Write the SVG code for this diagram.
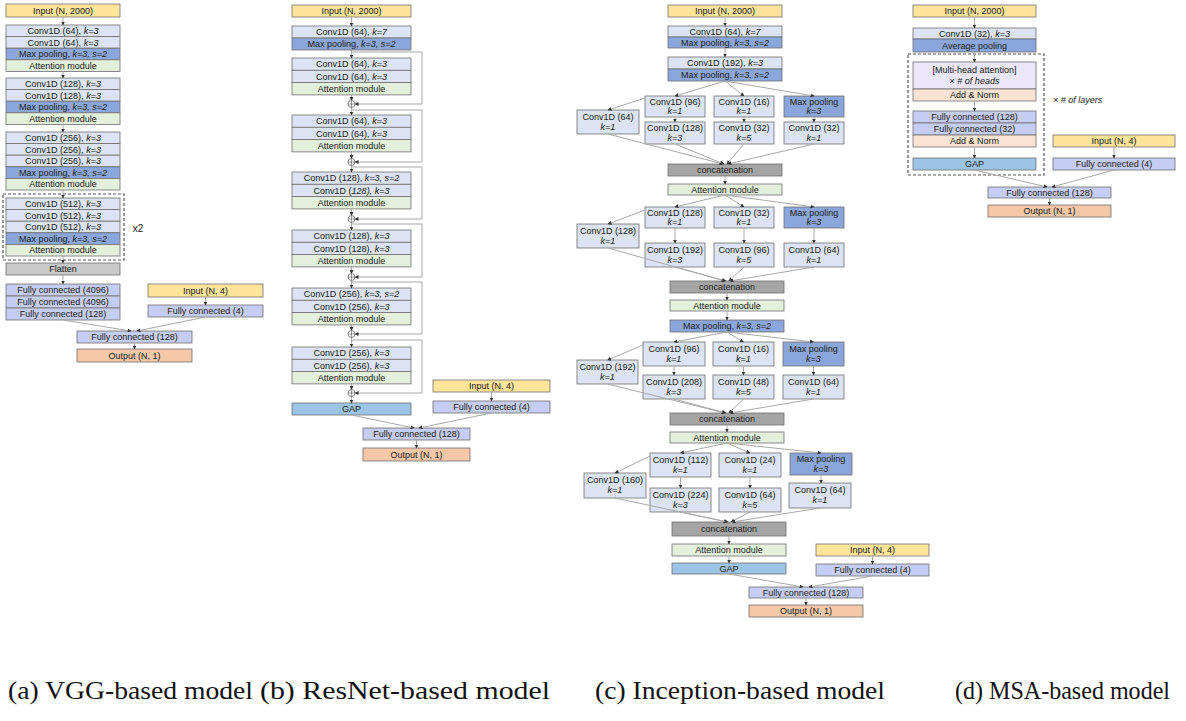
<svg xmlns="http://www.w3.org/2000/svg" width="1186" height="721" viewBox="0 0 1186 721">
<style>
rect{stroke:#6f6f6f;stroke-width:0.8}
.in{fill:#ffe49a}.cv{fill:#dbe3f4}.mp{fill:#8aa6dc}.at{fill:#e3f0dc}.fc{fill:#c6cdf4}.out{fill:#f7c8a8}.gap{fill:#9cc4e6}.cc{fill:#a5a5a5}.fl{fill:#c9c9c9}.mh{fill:#ece6fa}.an{fill:#fbe3d3}
.dash{fill:none;stroke:#555;stroke-width:1.2;stroke-dasharray:3,2}
text{font-family:"Liberation Sans",Arial,sans-serif;font-size:9px;fill:#222;text-anchor:middle}
.i{font-style:italic}
.cap{font-family:"Liberation Serif","Times New Roman",serif;font-size:26px;fill:#111;text-anchor:start}
.c line,.c path,.c polyline{stroke:#a8a8a8;stroke-width:1;fill:none;marker-end:url(#ah)}
.c circle{fill:#fff;stroke:#555;stroke-width:0.7}
.c .pl{stroke:#555;stroke-width:0.6;marker-end:none}
</style>
<defs><marker id="ah" markerWidth="4" markerHeight="4" refX="3.5" refY="2" orient="auto" markerUnits="userSpaceOnUse"><path d="M0,0L4,2L0,4z" fill="#333"/></marker></defs>

<g id="vgg">
<g id="a-in"><rect class="in" x="6" y="4" width="114" height="13"/><text x="63" y="13.8">Input (N, 2000)</text></g>
<g id="a-b1">
<rect class="cv" x="6" y="25" width="114" height="11.6"/><text x="63" y="34">Conv1D (64), <tspan class="i">k=3</tspan></text>
<rect class="cv" x="6" y="36.6" width="114" height="11.6"/><text x="63" y="45.6">Conv1D (64), <tspan class="i">k=3</tspan></text>
<rect class="mp" x="6" y="48.2" width="114" height="11.6"/><text x="63" y="57.2">Max pooling, <tspan class="i">k=3,  s=2</tspan></text>
<rect class="at" x="6" y="59.8" width="114" height="11.6"/><text x="63" y="68.8">Attention module</text></g>
<g id="a-b2">
<rect class="cv" x="6" y="78" width="114" height="11.6"/><text x="63" y="87">Conv1D (128), <tspan class="i">k=3</tspan></text>
<rect class="cv" x="6" y="89.6" width="114" height="11.6"/><text x="63" y="98.6">Conv1D (128), <tspan class="i">k=3</tspan></text>
<rect class="mp" x="6" y="101.2" width="114" height="11.6"/><text x="63" y="110.2">Max pooling, <tspan class="i">k=3, s=2</tspan></text>
<rect class="at" x="6" y="112.8" width="114" height="11.6"/><text x="63" y="121.8">Attention module</text></g>
<g id="a-b3">
<rect class="cv" x="6" y="132" width="114" height="11.6"/><text x="63" y="141">Conv1D (256), <tspan class="i">k=3</tspan></text>
<rect class="cv" x="6" y="143.6" width="114" height="11.6"/><text x="63" y="152.6">Conv1D (256), <tspan class="i">k=3</tspan></text>
<rect class="cv" x="6" y="155.2" width="114" height="11.6"/><text x="63" y="164.2">Conv1D (256), <tspan class="i">k=3</tspan></text>
<rect class="mp" x="6" y="166.8" width="114" height="11.6"/><text x="63" y="175.8">Max pooling, <tspan class="i">k=3, s=2</tspan></text>
<rect class="at" x="6" y="178.4" width="114" height="11.6"/><text x="63" y="187.4">Attention module</text></g>
<g id="a-b4">
<rect class="dash" x="3" y="194" width="121" height="66"/>
<rect class="cv" x="6" y="198" width="114" height="11.6"/><text x="63" y="207">Conv1D (512), <tspan class="i">k=3</tspan></text>
<rect class="cv" x="6" y="209.6" width="114" height="11.6"/><text x="63" y="218.6">Conv1D (512), <tspan class="i">k=3</tspan></text>
<rect class="cv" x="6" y="221.2" width="114" height="11.6"/><text x="63" y="230.2">Conv1D (512), <tspan class="i">k=3</tspan></text>
<rect class="mp" x="6" y="232.8" width="114" height="11.6"/><text x="63" y="241.8">Max pooling, <tspan class="i">k=3, s=2</tspan></text>
<rect class="at" x="6" y="244.4" width="114" height="11.6"/><text x="63" y="253.4">Attention module</text>
<text x="138" y="232" style="font-size:10px;font-style:normal">x2</text></g>
<g id="a-fl"><rect class="fl" x="6" y="263" width="114" height="12"/><text x="63" y="272.2">Flatten</text></g>
<g id="a-fc">
<rect class="fc" x="6" y="284" width="114" height="12"/><text x="63" y="293.2">Fully connected (4096)</text>
<rect class="fc" x="6" y="296" width="114" height="12"/><text x="63" y="305.2">Fully connected (4096)</text>
<rect class="fc" x="6" y="308" width="114" height="12"/><text x="63" y="317.2">Fully connected (128)</text></g>
<g id="a-in4"><rect class="in" x="148" y="284" width="115" height="13"/><text x="205.5" y="293.8">Input (N, 4)</text></g>
<g id="a-fc4"><rect class="fc" x="148" y="305" width="115" height="12"/><text x="205.5" y="314.2">Fully connected (4)</text></g>
<g id="a-fc128"><rect class="fc" x="77" y="331" width="115" height="12"/><text x="134.5" y="340.2">Fully connected (128)</text></g>
<g id="a-out"><rect class="out" x="77" y="349" width="115" height="13"/><text x="134.5" y="358.8">Output (N, 1)</text></g>
</g>

<g id="resnet">
<g id="b-in"><rect class="in" x="292" y="5" width="119" height="12"/><text x="351.5" y="14.2">Input (N, 2000)</text></g>
<g id="b-stem"><rect class="cv" x="292" y="26" width="119" height="12"/><text x="351.5" y="35.2">Conv1D (64), <tspan class="i">k=7</tspan></text>
<rect class="mp" x="292" y="38" width="119" height="12"/><text x="351.5" y="47.2">Max pooling, <tspan class="i">k=3, s=2</tspan></text></g>
<g id="b-1"><rect class="cv" x="292" y="58" width="119" height="12.3"/><text x="351.5" y="67.3">Conv1D (64), <tspan class="i">k=3</tspan></text>
<rect class="cv" x="292" y="70.3" width="119" height="12.3"/><text x="351.5" y="79.6">Conv1D (64), <tspan class="i">k=3</tspan></text>
<rect class="at" x="292" y="82.6" width="119" height="12.3"/><text x="351.5" y="91.9">Attention module</text></g>
<g id="b-2"><rect class="cv" x="292" y="115" width="119" height="12.3"/><text x="351.5" y="124.3">Conv1D (64), <tspan class="i">k=3</tspan></text>
<rect class="cv" x="292" y="127.3" width="119" height="12.3"/><text x="351.5" y="136.6">Conv1D (64), <tspan class="i">k=3</tspan></text>
<rect class="at" x="292" y="139.6" width="119" height="12.3"/><text x="351.5" y="148.9">Attention module</text></g>
<g id="b-3"><rect class="cv" x="292" y="172" width="119" height="12.3"/><text x="351.5" y="181.3">Conv1D (128), <tspan class="i">k=3, s=2</tspan></text>
<rect class="cv" x="292" y="184.3" width="119" height="12.3"/><text x="351.5" y="193.6">Conv1D (<tspan class="i">128), </tspan><tspan class="i">k=3</tspan></text>
<rect class="at" x="292" y="196.6" width="119" height="12.3"/><text x="351.5" y="205.9">Attention module</text></g>
<g id="b-4"><rect class="cv" x="292" y="230" width="119" height="12.3"/><text x="351.5" y="239.3">Conv1D (128), <tspan class="i">k=3</tspan></text>
<rect class="cv" x="292" y="242.3" width="119" height="12.3"/><text x="351.5" y="251.6">Conv1D (128), <tspan class="i">k=3</tspan></text>
<rect class="at" x="292" y="254.6" width="119" height="12.3"/><text x="351.5" y="263.9">Attention module</text></g>
<g id="b-5"><rect class="cv" x="292" y="288" width="119" height="12.3"/><text x="351.5" y="297.3">Conv1D (256), <tspan class="i">k=3, s=2</tspan></text>
<rect class="cv" x="292" y="300.3" width="119" height="12.3"/><text x="351.5" y="309.6">Conv1D (256), <tspan class="i">k=3</tspan></text>
<rect class="at" x="292" y="312.6" width="119" height="12.3"/><text x="351.5" y="321.9">Attention module</text></g>
<g id="b-6"><rect class="cv" x="292" y="347" width="119" height="12.3"/><text x="351.5" y="356.3">Conv1D (256), <tspan class="i">k=3</tspan></text>
<rect class="cv" x="292" y="359.3" width="119" height="12.3"/><text x="351.5" y="368.6">Conv1D (256), <tspan class="i">k=3</tspan></text>
<rect class="at" x="292" y="371.6" width="119" height="12.3"/><text x="351.5" y="380.9">Attention module</text></g>
<g id="b-gap"><rect class="gap" x="292" y="403" width="119" height="12"/><text x="351.5" y="412.2">GAP</text></g>
<g id="b-in4"><rect class="in" x="433" y="380" width="117" height="12"/><text x="491.5" y="389.2">Input (N, 4)</text></g>
<g id="b-fc4"><rect class="fc" x="433" y="401" width="117" height="12"/><text x="491.5" y="410.2">Fully connected (4)</text></g>
<g id="b-fc128"><rect class="fc" x="363" y="428" width="107" height="12"/><text x="416.5" y="437.2">Fully connected (128)</text></g>
<g id="b-out"><rect class="out" x="363" y="448" width="107" height="13"/><text x="416.5" y="457.8">Output (N, 1)</text></g>
</g>

<g id="inception">
<g id="c-in"><rect class="in" x="668" y="5" width="114" height="12"/><text x="725" y="14.2">Input (N, 2000)</text></g>
<g id="c-stem"><rect class="cv" x="668" y="26" width="114" height="11"/><text x="725" y="34.7">Conv1D (64), <tspan class="i">k=7</tspan></text>
<rect class="mp" x="668" y="37" width="114" height="11"/><text x="725" y="45.7">Max pooling, <tspan class="i">k=3, s=2</tspan></text>
<rect class="cv" x="668" y="57" width="114" height="12"/><text x="725" y="66.2">Conv1D (192), <tspan class="i">k=3</tspan></text>
<rect class="mp" x="668" y="69" width="114" height="12"/><text x="725" y="78.2">Max pooling, <tspan class="i">k=3, s=2</tspan></text></g>
<g id="c-inc1">
<rect class="cv" x="645" y="96" width="60" height="21"/><text x="675" y="105">Conv1D (96)</text><text class="i" x="675" y="114">k=1</text>
<rect class="cv" x="714" y="96" width="60" height="21"/><text x="744" y="105">Conv1D (16)</text><text class="i" x="744" y="114">k=1</text>
<rect class="mp" x="784" y="96" width="60" height="21"/><text x="814" y="105">Max pooling</text><text class="i" x="814" y="114">k=3</text>
<rect class="cv" x="577" y="110" width="62" height="24"/><text x="608" y="120">Conv1D (64)</text><text class="i" x="608" y="130">k=1</text>
<rect class="cv" x="645" y="122" width="60" height="22"/><text x="675" y="131">Conv1D (128)</text><text class="i" x="675" y="141">k=3</text>
<rect class="cv" x="714" y="122" width="60" height="22"/><text x="744" y="131">Conv1D (32)</text><text class="i" x="744" y="141">k=5</text>
<rect class="cv" x="784" y="122" width="60" height="22"/><text x="814" y="131">Conv1D (32)</text><text class="i" x="814" y="141">k=1</text>
<rect class="cc" x="668" y="164" width="114" height="12"/><text x="725" y="173.2">concatenation</text>
<rect class="at" x="668" y="184" width="114" height="11"/><text x="725" y="192.7">Attention module</text></g>
<g id="c-inc2">
<rect class="cv" x="645" y="207" width="60" height="21"/><text x="675" y="216">Conv1D (128)</text><text class="i" x="675" y="225">k=1</text>
<rect class="cv" x="714" y="207" width="60" height="21"/><text x="744" y="216">Conv1D (32)</text><text class="i" x="744" y="225">k=1</text>
<rect class="mp" x="784" y="207" width="60" height="21"/><text x="814" y="216">Max pooling</text><text class="i" x="814" y="225">k=3</text>
<rect class="cv" x="577" y="224" width="62" height="24"/><text x="608" y="234">Conv1D (128)</text><text class="i" x="608" y="244">k=1</text>
<rect class="cv" x="645" y="243" width="60" height="24"/><text x="675" y="253">Conv1D (192)</text><text class="i" x="675" y="263">k=3</text>
<rect class="cv" x="714" y="243" width="60" height="24"/><text x="744" y="253">Conv1D (96)</text><text class="i" x="744" y="263">k=5</text>
<rect class="cv" x="784" y="243" width="60" height="24"/><text x="814" y="253">Conv1D (64)</text><text class="i" x="814" y="263">k=1</text>
<rect class="cc" x="670" y="281" width="114" height="12"/><text x="727" y="290.2">concatenation</text>
<rect class="at" x="670" y="300" width="114" height="11"/><text x="727" y="308.7">Attention module</text></g>
<g id="c-mp"><rect class="mp" x="670" y="320" width="114" height="12"/><text x="727" y="329.2">Max pooling, <tspan class="i">k=3, s=2</tspan></text></g>
<g id="c-inc3">
<rect class="cv" x="643" y="342" width="62" height="24"/><text x="674" y="352">Conv1D (96)</text><text class="i" x="674" y="362">k=1</text>
<rect class="cv" x="713" y="342" width="61" height="24"/><text x="743.5" y="352">Conv1D (16)</text><text class="i" x="743.5" y="362">k=1</text>
<rect class="mp" x="783" y="342" width="61" height="24"/><text x="813.5" y="352">Max pooling</text><text class="i" x="813.5" y="362">k=3</text>
<rect class="cv" x="577" y="360" width="61" height="24"/><text x="607.5" y="370">Conv1D (192)</text><text class="i" x="607.5" y="380">k=1</text>
<rect class="cv" x="643" y="375" width="62" height="24"/><text x="674" y="385">Conv1D (208)</text><text class="i" x="674" y="395">k=3</text>
<rect class="cv" x="713" y="375" width="61" height="24"/><text x="743.5" y="385">Conv1D (48)</text><text class="i" x="743.5" y="395">k=5</text>
<rect class="cv" x="783" y="375" width="61" height="24"/><text x="813.5" y="385">Conv1D (64)</text><text class="i" x="813.5" y="395">k=1</text>
<rect class="cc" x="670" y="413" width="114" height="12"/><text x="727" y="422.2">concatenation</text>
<rect class="at" x="670" y="432" width="114" height="11"/><text x="727" y="440.7">Attention module</text></g>
<g id="c-inc4">
<rect class="cv" x="650" y="453" width="61" height="24"/><text x="680.5" y="463">Conv1D (112)</text><text class="i" x="680.5" y="473">k=1</text>
<rect class="cv" x="719" y="453" width="62" height="24"/><text x="750" y="463">Conv1D (24)</text><text class="i" x="750" y="473">k=1</text>
<rect class="mp" x="790" y="453" width="62" height="22"/><text x="821" y="462">Max pooling</text><text class="i" x="821" y="472">k=3</text>
<rect class="cv" x="584" y="473" width="62" height="25"/><text x="615" y="483">Conv1D (160)</text><text class="i" x="615" y="493">k=1</text>
<rect class="cv" x="650" y="488" width="61" height="24"/><text x="680.5" y="498">Conv1D (224)</text><text class="i" x="680.5" y="508">k=3</text>
<rect class="cv" x="719" y="488" width="62" height="24"/><text x="750" y="498">Conv1D (64)</text><text class="i" x="750" y="508">k=5</text>
<rect class="cv" x="789" y="483" width="62" height="25"/><text x="820" y="493">Conv1D (64)</text><text class="i" x="820" y="503">k=1</text>
<rect class="cc" x="672" y="522" width="114" height="14"/><text x="729" y="532.2">concatenation</text>
<rect class="at" x="672" y="544" width="114" height="12"/><text x="729" y="553.2">Attention module</text></g>
<g id="c-gap"><rect class="gap" x="672" y="563" width="114" height="11"/><text x="729" y="571.7">GAP</text></g>
<g id="c-in4"><rect class="in" x="816" y="544" width="113" height="12"/><text x="872.5" y="553.2">Input (N, 4)</text></g>
<g id="c-fc4"><rect class="fc" x="816" y="564" width="113" height="12"/><text x="872.5" y="573.2">Fully connected (4)</text></g>
<g id="c-fc128"><rect class="fc" x="749" y="587" width="114" height="11"/><text x="806" y="595.7">Fully connected (128)</text></g>
<g id="c-out"><rect class="out" x="749" y="605" width="114" height="12"/><text x="806" y="614.2">Output (N, 1)</text></g>
</g>

<g id="msa">
<g id="d-in"><rect class="in" x="913" y="5" width="123" height="12"/><text x="974.5" y="14.2">Input (N, 2000)</text></g>
<g id="d-stem"><rect class="cv" x="913" y="28" width="123" height="11"/><text x="974.5" y="36.7">Conv1D (32), <tspan class="i">k=3</tspan></text>
<rect class="mp" x="913" y="39" width="123" height="13"/><text x="974.5" y="48.8">Average pooling</text></g>
<rect class="dash" x="908" y="54" width="136" height="121"/>
<g id="d-mh"><rect class="mh" x="913" y="62" width="123" height="27"/><text x="974.5" y="73">[Multi-head attention]</text><text x="974.5" y="84">× <tspan class="i"># of heads</tspan></text>
<rect class="an" x="913" y="89" width="123" height="12"/><text x="974.5" y="98.2">Add &amp; Norm</text></g>
<g id="d-ff"><rect class="fc" x="913" y="111" width="123" height="12"/><text x="974.5" y="120.2">Fully connected (128)</text>
<rect class="fc" x="913" y="123" width="123" height="12"/><text x="974.5" y="132.2">Fully connected (32)</text>
<rect class="an" x="913" y="135" width="123" height="12"/><text x="974.5" y="144.2">Add &amp; Norm</text></g>
<g id="d-gap"><rect class="gap" x="913" y="158" width="123" height="12"/><text x="974.5" y="167.2">GAP</text></g>
<text x="1053" y="103" style="text-anchor:start">× <tspan class="i"># of layers</tspan></text>
<g id="d-in4"><rect class="in" x="1053" y="135" width="122" height="12"/><text x="1114" y="144.2">Input (N, 4)</text></g>
<g id="d-fc4"><rect class="fc" x="1053" y="158" width="122" height="12"/><text x="1114" y="167.2">Fully connected (4)</text></g>
<g id="d-fc128"><rect class="fc" x="988" y="187" width="123" height="11"/><text x="1049.5" y="195.7">Fully connected (128)</text></g>
<g id="d-out"><rect class="out" x="988" y="205" width="123" height="12"/><text x="1049.5" y="214.2">Output (N, 1)</text></g>
</g>

<g id="connectors" class="c">
<line x1="63" y1="17" x2="63" y2="25"/><line x1="63" y1="71.4" x2="63" y2="78"/><line x1="63" y1="124.4" x2="63" y2="132"/><line x1="63" y1="190" x2="63" y2="198"/><line x1="63" y1="256" x2="63" y2="263"/><line x1="63" y1="275" x2="63" y2="284"/>
<line x1="205.5" y1="297" x2="205.5" y2="305"/><line x1="63" y1="320" x2="131" y2="331"/><line x1="205.5" y1="317" x2="137" y2="331"/><line x1="134.5" y1="343" x2="134.5" y2="349"/>
<line x1="351.5" y1="17" x2="351.5" y2="26"/><line x1="351.5" y1="50" x2="351.5" y2="58"/>
<line x1="351.5" y1="94.9" x2="351.5" y2="100.5"/><line x1="351.5" y1="107.5" x2="351.5" y2="115"/>
<line x1="351.5" y1="151.9" x2="351.5" y2="158.5"/><line x1="351.5" y1="165.5" x2="351.5" y2="172"/>
<line x1="351.5" y1="208.9" x2="351.5" y2="215.5"/><line x1="351.5" y1="222.5" x2="351.5" y2="230"/>
<line x1="351.5" y1="266.9" x2="351.5" y2="273.5"/><line x1="351.5" y1="280.5" x2="351.5" y2="288"/>
<line x1="351.5" y1="324.9" x2="351.5" y2="330.5"/><line x1="351.5" y1="337.5" x2="351.5" y2="347"/>
<line x1="351.5" y1="383.9" x2="351.5" y2="389.5"/><line x1="351.5" y1="396.5" x2="351.5" y2="403"/>
<polyline points="351.5,52 422,52 422,104 355,104"/><polyline points="351.5,110 422,110 422,162 355,162"/><polyline points="351.5,167 422,167 422,219 355,219"/><polyline points="351.5,224 422,224 422,277 355,277"/><polyline points="351.5,282 422,282 422,334 355,334"/><polyline points="351.5,340 422,340 422,393 355,393"/>
<circle cx="351.5" cy="104" r="3.5"/><path class="pl" d="M348,104h7M351.5,100.5v7"/>
<circle cx="351.5" cy="162" r="3.5"/><path class="pl" d="M348,162h7M351.5,158.5v7"/>
<circle cx="351.5" cy="219" r="3.5"/><path class="pl" d="M348,219h7M351.5,215.5v7"/>
<circle cx="351.5" cy="277" r="3.5"/><path class="pl" d="M348,277h7M351.5,273.5v7"/>
<circle cx="351.5" cy="334" r="3.5"/><path class="pl" d="M348,334h7M351.5,330.5v7"/>
<circle cx="351.5" cy="393" r="3.5"/><path class="pl" d="M348,393h7M351.5,389.5v7"/>
<line x1="491.5" y1="392" x2="491.5" y2="401"/><line x1="351.5" y1="415" x2="414" y2="428"/><line x1="491.5" y1="413" x2="419" y2="428"/><line x1="416.5" y1="440" x2="416.5" y2="448"/>
<line x1="725" y1="17" x2="725" y2="26"/><line x1="725" y1="48" x2="725" y2="57"/>
<line x1="725" y1="81" x2="675" y2="96"/><line x1="725" y1="81" x2="744" y2="96"/><line x1="725" y1="81" x2="814" y2="96"/><line x1="645" y1="98" x2="608" y2="110"/>
<line x1="675" y1="117" x2="675" y2="122"/><line x1="744" y1="117" x2="744" y2="122"/><line x1="814" y1="117" x2="814" y2="122"/>
<line x1="608" y1="134" x2="723" y2="164"/><line x1="675" y1="144" x2="724" y2="164"/><line x1="744" y1="144" x2="727" y2="164"/><line x1="814" y1="144" x2="728" y2="164"/><line x1="725" y1="176" x2="725" y2="184"/>
<line x1="725" y1="195" x2="675" y2="207"/><line x1="725" y1="195" x2="744" y2="207"/><line x1="725" y1="195" x2="814" y2="207"/><line x1="645" y1="210" x2="608" y2="224"/>
<line x1="675" y1="228" x2="675" y2="243"/><line x1="744" y1="228" x2="744" y2="243"/><line x1="814" y1="228" x2="814" y2="243"/>
<line x1="608" y1="248" x2="725" y2="281"/><line x1="675" y1="267" x2="726" y2="281"/><line x1="744" y1="267" x2="729" y2="281"/><line x1="814" y1="267" x2="730" y2="281"/><line x1="727" y1="293" x2="727" y2="300"/><line x1="727" y1="311" x2="727" y2="320"/>
<line x1="727" y1="332" x2="674" y2="342"/><line x1="727" y1="332" x2="743.5" y2="342"/><line x1="727" y1="332" x2="813.5" y2="342"/><line x1="643" y1="345" x2="607.5" y2="360"/>
<line x1="674" y1="366" x2="674" y2="375"/><line x1="743.5" y1="366" x2="743.5" y2="375"/><line x1="813.5" y1="366" x2="813.5" y2="375"/>
<line x1="607.5" y1="384" x2="725" y2="413"/><line x1="674" y1="399" x2="726" y2="413"/><line x1="743.5" y1="399" x2="729" y2="413"/><line x1="813.5" y1="399" x2="730" y2="413"/><line x1="727" y1="425" x2="727" y2="432"/>
<line x1="727" y1="443" x2="680.5" y2="453"/><line x1="727" y1="443" x2="750" y2="453"/><line x1="727" y1="443" x2="821" y2="453"/><line x1="650" y1="456" x2="615" y2="473"/>
<line x1="680.5" y1="477" x2="680.5" y2="488"/><line x1="750" y1="477" x2="750" y2="488"/><line x1="821" y1="475" x2="821" y2="483"/>
<line x1="615" y1="498" x2="727" y2="522"/><line x1="680.5" y1="512" x2="728" y2="522"/><line x1="750" y1="512" x2="731" y2="522"/><line x1="820" y1="508" x2="732" y2="522"/><line x1="729" y1="536" x2="729" y2="544"/><line x1="729" y1="556" x2="729" y2="563"/>
<line x1="872.5" y1="556" x2="872.5" y2="564"/><line x1="729" y1="574" x2="803" y2="587"/><line x1="872.5" y1="576" x2="809" y2="587"/><line x1="806" y1="598" x2="806" y2="605"/>
<line x1="974.5" y1="17" x2="974.5" y2="28"/><line x1="974.5" y1="52" x2="974.5" y2="62"/><line x1="974.5" y1="101" x2="974.5" y2="111"/><line x1="974.5" y1="147" x2="974.5" y2="158"/>
<line x1="1114" y1="147" x2="1114" y2="158"/><line x1="974.5" y1="170" x2="1047" y2="187"/><line x1="1114" y1="170" x2="1052" y2="187"/><line x1="1049.5" y1="198" x2="1049.5" y2="205"/>
</g>

<text class="cap" x="8" y="699" textLength="245" lengthAdjust="spacingAndGlyphs">(a) VGG-based model</text>
<text class="cap" x="260" y="699" textLength="290" lengthAdjust="spacingAndGlyphs">(b) ResNet-based model</text>
<text class="cap" x="595" y="699" textLength="290" lengthAdjust="spacingAndGlyphs">(c) Inception-based model</text>
<text class="cap" x="955" y="699" textLength="215" lengthAdjust="spacingAndGlyphs">(d) MSA-based model</text>
</svg>
